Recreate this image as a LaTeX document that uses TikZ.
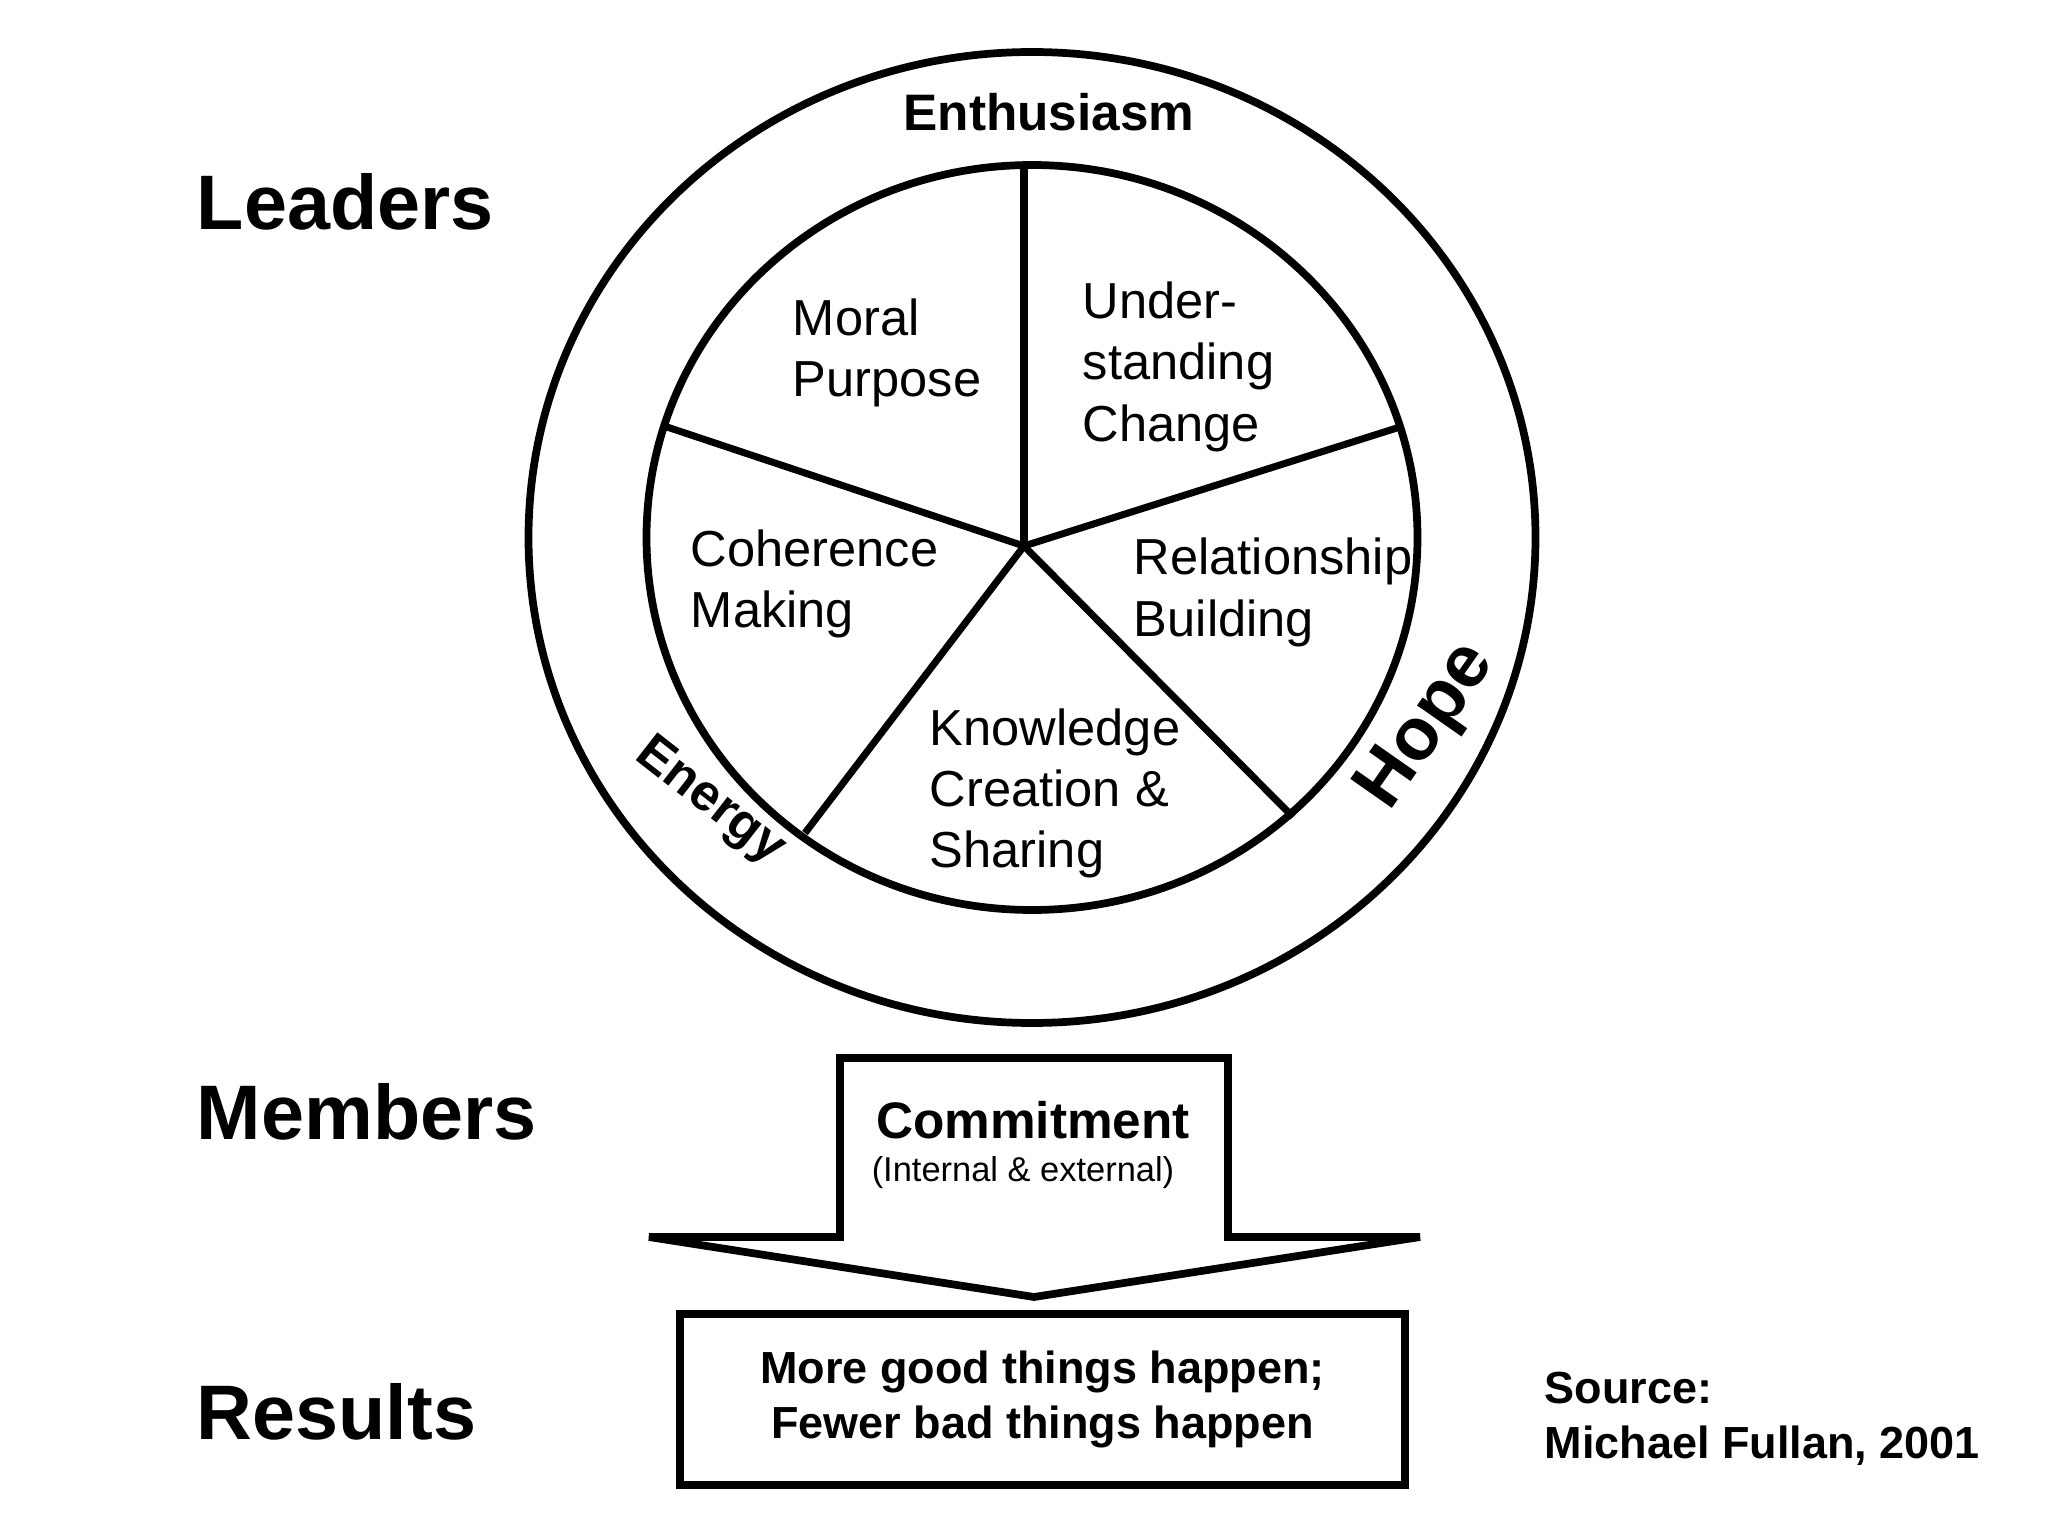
\documentclass[tikz,border=0pt]{standalone}
\usepackage{fontspec}
\setmainfont{Liberation Sans}
\usepackage{tikz}
\tikzset{
  rowlabel/.style={anchor=base west, inner sep=0pt, font=\fontsize{22}{26}\selectfont\bfseries},
  slice/.style={anchor=base west, align=left, inner sep=0pt, font=\fontsize{14.4}{17.4}\selectfont},
  ringword/.style={inner sep=0pt, font=\fontsize{14.6}{17}\selectfont\bfseries},
  spoke/.style={line width=2pt}
}

\begin{document}
\begin{tikzpicture}[line width=2.2pt]
  \useasboundingbox (0,0) rectangle (20.48,-15.36);
  % row labels
  \node[rowlabel] (leaders) at (1.93,-2.30) {Leaders};
  \node[rowlabel] (members) at (1.93,-11.40) {Members};
  \node[rowlabel] (results) at (1.93,-14.39) {Results};
  % the wheel
  \draw (10.32,-5.375) ellipse [x radius=5.035, y radius=4.855];
  \draw (10.32,-5.375) ellipse [x radius=3.855, y radius=3.725];
  \coordinate (hub) at (10.24,-5.46);
  \coordinate (sTop) at (10.24,-1.65);
  \coordinate (sUR) at (14.00,-4.27);
  \coordinate (sLR) at (12.93,-8.17);
  \coordinate (sLL) at (8.05,-8.33);
  \coordinate (sUL) at (6.67,-4.27);
  \foreach \s in {sTop,sUR,sLR,sLL,sUL}
    \draw[spoke] (hub) -- (\s);
  % base of a slice text = its last line
  \node[slice] (moral) at (7.89,-3.97) {Moral\\Purpose};
  \node[slice] (change) at (10.79,-4.41) {Under-\\standing\\Change};
  \node[slice] (coher) at (6.87,-6.28) {Coherence\\Making};
  \node[slice] (relat) at (11.30,-6.36) {Relationship\\Building};
  \node[slice] (knowl) at (9.26,-8.68) {Knowledge\\Creation \&\\Sharing};
  % ring words
  \node[ringword, anchor=base] (enthus) at (10.49,-1.31) {Enthusiasm};
  \node[ringword, rotate=-38] (energy) at (7.10,-8.02) {Energy};
  \node[ringword, rotate=55, font=\fontsize{21}{25}\selectfont\bfseries] (hope) at (14.28,-7.27) {Hope};
  % arrow down to the results
  \draw (8.40,-10.58) -- (8.40,-12.37) -- (6.49,-12.37) -- (10.34,-12.97)
    -- (14.20,-12.37) -- (12.28,-12.37) -- (12.28,-10.58) -- cycle;
  \node[ringword, anchor=base] (commit) at (10.33,-11.38) {Commitment};
  \node[inner sep=0pt, font=\fontsize{9.8}{12}\selectfont] (kind) at (10.23,-11.73) {(Internal \& external)};
  \node[draw, minimum width=7.25cm, minimum height=1.71cm, align=center,
    font=\fontsize{12.8}{15.6}\selectfont\bfseries] (outcome) at (10.425,-13.995)
    {\raisebox{-0.08cm}{More good things happen;}\\\raisebox{-0.08cm}{Fewer bad things happen}};
  \node[anchor=base west, align=left, inner sep=0pt,
    font=\fontsize{12.8}{15.6}\selectfont\bfseries] (source) at (15.41,-14.58)
    {Source:\\Michael Fullan, 2001};
\end{tikzpicture}
\end{document}
